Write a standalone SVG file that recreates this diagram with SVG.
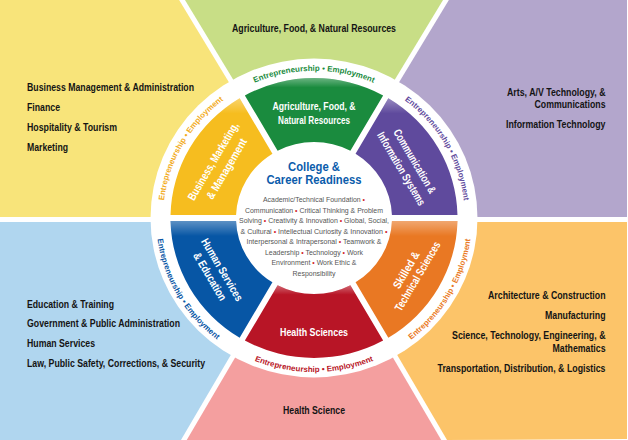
<svg xmlns="http://www.w3.org/2000/svg" xmlns:xlink="http://www.w3.org/1999/xlink" width="628" height="440" viewBox="0 0 628 440">
<defs>
<style>
text{font-family:"Liberation Sans",Arial,sans-serif}
.bgt{font-weight:bold;font-size:10px;fill:#141414}
.ring{font-weight:bold;font-size:8px}
.lbl{font-weight:bold;font-size:11.5px;fill:#fff;text-anchor:middle}
.ctitle{font-weight:bold;font-size:12.5px;fill:#0b5cab;text-anchor:middle}
.body{font-size:7.2px;fill:#555;text-anchor:middle}
.dot{fill:#d2232a}
.gap{stroke:#fff;stroke-width:5;fill:none}
</style>
<linearGradient id="gloss" x1="0" y1="0" x2="0" y2="1">
<stop offset="0" stop-color="#fff" stop-opacity="0.35"/>
<stop offset="0.13" stop-color="#fff" stop-opacity="0"/>
</linearGradient>
<path id="s-green" d="M -69.14 -125.75 A 143.5 143.5 0 0 1 69.14 -125.75 L 36.38 -69 A 78 78 0 0 0 -36.38 -69 Z"/>
<path id="s-purple" d="M 74.33 -122.75 A 143.5 143.5 0 0 1 143.47 -3 L 77.94 -3 A 78 78 0 0 0 41.56 -66.01 Z"/>
<path id="s-orange" d="M 143.47 3 A 143.5 143.5 0 0 1 74.33 122.75 L 41.57 66 A 78 78 0 0 0 77.94 3 Z"/>
<path id="s-red" d="M 69.14 125.75 A 143.5 143.5 0 0 1 -69.14 125.75 L -36.38 69 A 78 78 0 0 0 36.38 69 Z"/>
<path id="s-blue" d="M -74.33 122.75 A 143.5 143.5 0 0 1 -143.47 3 L -77.94 3 A 78 78 0 0 0 -41.56 66.01 Z"/>
<path id="s-yellow" d="M -143.47 -3 A 143.5 143.5 0 0 1 -74.33 -122.75 L -41.57 -66 A 78 78 0 0 0 -77.94 -3 Z"/>
<path id="r-green" d="M -97.06 -115.67 A 151 151 0 0 1 97.06 -115.67"/>
<path id="r-purple" d="M 51.64 -141.89 A 151 151 0 0 1 148.71 26.22"/>
<path id="r-yellow" d="M -148.71 26.22 A 151 151 0 0 1 -51.64 -141.89"/>
<path id="r-red" d="M -101.56 121.03 A 158 158 0 0 0 101.56 121.03"/>
<path id="r-orange" d="M 54.04 148.47 A 158 158 0 0 0 155.6 -27.43"/>
<path id="r-blue" d="M -155.6 -27.43 A 158 158 0 0 0 -54.04 148.47"/>
</defs>

<rect width="628" height="440" fill="#fff"/>

<g id="bg-agriculture">
<polygon points="314,218 182,0 446,0" fill="#c8de86"/>
<text class="bgt" x="314" y="32" text-anchor="middle" textLength="164" lengthAdjust="spacingAndGlyphs">Agriculture, Food, &amp; Natural Resources</text>
</g>
<g id="bg-business">
<polygon points="0,0 182,0 314,218 0,218" fill="#f8e47a"/>
<text class="bgt" x="27" y="91" textLength="167" lengthAdjust="spacingAndGlyphs">Business Management &amp; Administration</text>
<text class="bgt" x="27" y="111" textLength="33" lengthAdjust="spacingAndGlyphs">Finance</text>
<text class="bgt" x="27" y="130.7" textLength="90" lengthAdjust="spacingAndGlyphs">Hospitality &amp; Tourism</text>
<text class="bgt" x="27" y="150.5" textLength="41" lengthAdjust="spacingAndGlyphs">Marketing</text>
</g>
<g id="bg-communication">
<polygon points="446,0 627,0 627,218 314,218" fill="#b3a6cc"/>
<text class="bgt" x="605.5" y="95.5" text-anchor="end" textLength="98.5" lengthAdjust="spacingAndGlyphs">Arts, A/V Technology, &amp;</text>
<text class="bgt" x="605.5" y="108" text-anchor="end" textLength="71" lengthAdjust="spacingAndGlyphs">Communications</text>
<text class="bgt" x="605.5" y="127.7" text-anchor="end" textLength="99.5" lengthAdjust="spacingAndGlyphs">Information Technology</text>
</g>
<g id="bg-human">
<polygon points="0,218 314,218 184,440 0,440" fill="#b0d6ef"/>
<text class="bgt" x="27" y="307.7" textLength="87" lengthAdjust="spacingAndGlyphs">Education &amp; Training</text>
<text class="bgt" x="27" y="327.3" textLength="153" lengthAdjust="spacingAndGlyphs">Government &amp; Public Administration</text>
<text class="bgt" x="27" y="347" textLength="68" lengthAdjust="spacingAndGlyphs">Human Services</text>
<text class="bgt" x="27" y="367" textLength="178" lengthAdjust="spacingAndGlyphs">Law, Public Safety, Corrections, &amp; Security</text>
</g>
<g id="bg-skilled">
<polygon points="314,218 627,218 627,439 444,440" fill="#fcc469"/>
<text class="bgt" x="605.5" y="299.3" text-anchor="end" textLength="117.5" lengthAdjust="spacingAndGlyphs">Architecture &amp; Construction</text>
<text class="bgt" x="605.5" y="319.3" text-anchor="end" textLength="60.5" lengthAdjust="spacingAndGlyphs">Manufacturing</text>
<text class="bgt" x="605.5" y="339" text-anchor="end" textLength="153.5" lengthAdjust="spacingAndGlyphs">Science, Technology, Engineering, &amp;</text>
<text class="bgt" x="605.5" y="351.7" text-anchor="end" textLength="53" lengthAdjust="spacingAndGlyphs">Mathematics</text>
<text class="bgt" x="605.5" y="371.7" text-anchor="end" textLength="168" lengthAdjust="spacingAndGlyphs">Transportation, Distribution, &amp; Logistics</text>
</g>
<g id="bg-health">
<polygon points="314,218 184,440 444,440" fill="#f49f9f"/>
<text class="bgt" x="314" y="414.3" text-anchor="middle" textLength="62" lengthAdjust="spacingAndGlyphs">Health Science</text>
</g>

<g id="bg-gaps" class="gap">
<line x1="0" y1="219.5" x2="628" y2="219.5"/>
<line x1="314" y1="218" x2="176" y2="-10"/>
<line x1="314" y1="218" x2="452" y2="-10"/>
<line x1="314" y1="218" x2="178" y2="450"/>
<line x1="314" y1="218" x2="450" y2="450"/>
</g>

<g id="wheel" transform="translate(314,218) scale(1,0.975)">
<circle r="163.5" fill="#fff"/>

<g id="seg-agriculture">
<use xlink:href="#s-green" fill="#1a8b3e"/>
<use xlink:href="#s-green" fill="url(#gloss)"/>
<text class="lbl" x="0" y="-111" textLength="83" lengthAdjust="spacingAndGlyphs">Agriculture, Food, &amp;</text>
<text class="lbl" x="0" y="-96" textLength="72" lengthAdjust="spacingAndGlyphs">Natural Resources</text>
<text class="ring" fill="#1a8b3e"><textPath xlink:href="#r-green" startOffset="50%" text-anchor="middle">Entrepreneurship • Employment</textPath></text>
</g>

<g id="seg-communication">
<use xlink:href="#s-purple" fill="#5f4a9d"/>
<use xlink:href="#s-purple" fill="url(#gloss)"/>
<g transform="rotate(60)">
<text class="lbl" x="0" y="-112.5" textLength="74" lengthAdjust="spacingAndGlyphs">Communication &amp;</text>
<text class="lbl" x="0" y="-97" textLength="85" lengthAdjust="spacingAndGlyphs">Information Systems</text>
</g>
<text class="ring" fill="#5f4a9d"><textPath xlink:href="#r-purple" startOffset="50%" text-anchor="middle">Entrepreneurship • Employment</textPath></text>
</g>

<g id="seg-skilled">
<use xlink:href="#s-orange" fill="#e97823"/>
<use xlink:href="#s-orange" fill="url(#gloss)"/>
<g transform="rotate(-60)">
<text class="lbl" x="0" y="110.5" textLength="42" lengthAdjust="spacingAndGlyphs">Skilled &amp;</text>
<text class="lbl" x="0" y="123.5" textLength="80" lengthAdjust="spacingAndGlyphs">Technical Sciences</text>
</g>
<text class="ring" fill="#ea7a24"><textPath xlink:href="#r-orange" startOffset="50%" text-anchor="middle">Entrepreneurship • Employment</textPath></text>
</g>

<g id="seg-health">
<use xlink:href="#s-red" fill="#b81526"/>
<use xlink:href="#s-red" fill="url(#gloss)"/>
<text class="lbl" x="0" y="121" textLength="68" lengthAdjust="spacingAndGlyphs">Health Sciences</text>
<text class="ring" fill="#b81526"><textPath xlink:href="#r-red" startOffset="50%" text-anchor="middle">Entrepreneurship • Employment</textPath></text>
</g>

<g id="seg-human">
<use xlink:href="#s-blue" fill="#0756a5"/>
<use xlink:href="#s-blue" fill="url(#gloss)"/>
<g transform="rotate(60)">
<text class="lbl" x="0" y="110" textLength="72" lengthAdjust="spacingAndGlyphs">Human Services</text>
<text class="lbl" x="0" y="124" textLength="55" lengthAdjust="spacingAndGlyphs">&amp; Education</text>
</g>
<text class="ring" fill="#0756a5"><textPath xlink:href="#r-blue" startOffset="50%" text-anchor="middle">Entrepreneurship • Employment</textPath></text>
</g>

<g id="seg-business">
<use xlink:href="#s-yellow" fill="#f6bd1f"/>
<use xlink:href="#s-yellow" fill="url(#gloss)"/>
<g transform="rotate(-60)">
<text class="lbl" x="0" y="-112.5" textLength="90" lengthAdjust="spacingAndGlyphs">Business, Marketing,</text>
<text class="lbl" x="0" y="-97" textLength="70" lengthAdjust="spacingAndGlyphs">&amp; Management</text>
</g>
<text class="ring" fill="#f2ab1c"><textPath xlink:href="#r-yellow" startOffset="50%" text-anchor="middle">Entrepreneurship • Employment</textPath></text>
</g>
</g>

<g id="center">
<text class="ctitle" x="314" y="170.7" textLength="52" lengthAdjust="spacingAndGlyphs">College &amp;</text>
<text class="ctitle" x="314" y="184" textLength="95" lengthAdjust="spacingAndGlyphs">Career Readiness</text>
<text class="body" x="314" y="202" textLength="102" lengthAdjust="spacingAndGlyphs">Academic/Technical Foundation <tspan class="dot">•</tspan></text>
<text class="body" x="314" y="212.5" textLength="138" lengthAdjust="spacingAndGlyphs">Communication <tspan class="dot">•</tspan> Critical Thinking &amp; Problem</text>
<text class="body" x="314" y="223" textLength="150" lengthAdjust="spacingAndGlyphs">Solving <tspan class="dot">•</tspan> Creativity &amp; Innovation <tspan class="dot">•</tspan> Global, Social,</text>
<text class="body" x="314" y="233.5" textLength="147" lengthAdjust="spacingAndGlyphs">&amp; Cultural <tspan class="dot">•</tspan> Intellectual Curiosity &amp; Innovation <tspan class="dot">•</tspan></text>
<text class="body" x="314" y="244" textLength="135" lengthAdjust="spacingAndGlyphs">Interpersonal &amp; Intrapersonal <tspan class="dot">•</tspan> Teamwork &amp;</text>
<text class="body" x="314" y="254.5" textLength="98" lengthAdjust="spacingAndGlyphs">Leadership <tspan class="dot">•</tspan> Technology <tspan class="dot">•</tspan> Work</text>
<text class="body" x="314" y="265" textLength="85" lengthAdjust="spacingAndGlyphs">Environment <tspan class="dot">•</tspan> Work Ethic &amp;</text>
<text class="body" x="314" y="275.5" textLength="43" lengthAdjust="spacingAndGlyphs">Responsibility</text>
</g>
</svg>
